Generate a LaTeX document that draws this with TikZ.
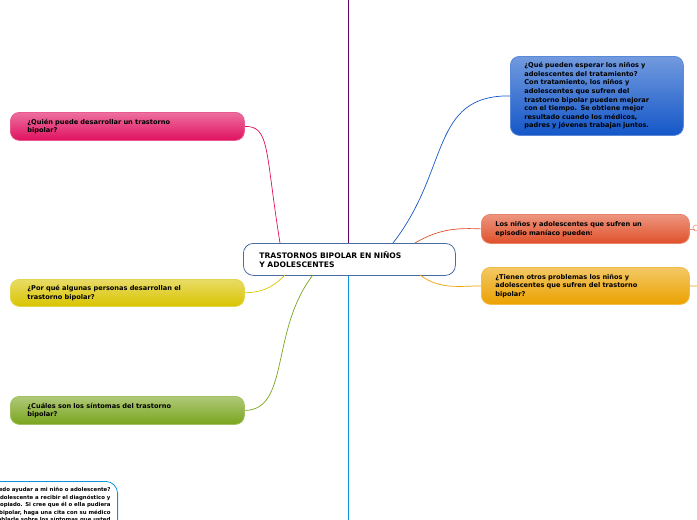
\documentclass[tikz,border=0pt]{standalone}
\usepackage{fontspec}
\setmainfont{DejaVu Sans}
\begin{document}
\begin{tikzpicture}[x=1pt,y=-1pt,
  topic/.style={rounded corners=9pt,draw=#1!70!white,line width=0.8pt,
    top color=#1!60!white,bottom color=#1,anchor=north west,inner xsep=14pt,
    align=left,font=\fontsize{6.6}{8.6}\selectfont\bfseries,text=black},
  link/.style={line width=0.7pt}]
\useasboundingbox (0,0) rectangle (697,520);
\clip (0,0) rectangle (697,520);
\definecolor{cpink}{HTML}{E0105F}
\definecolor{cyel}{HTML}{D9C400}
\definecolor{cgrn}{HTML}{7AA51E}
\definecolor{cblu}{HTML}{1457C8}
\definecolor{corg}{HTML}{E0502A}
\definecolor{cgold}{HTML}{EBA200}
% trunk lines
\coordinate (ttop) at (348,0);
\coordinate (tbot) at (348,520);
\node[draw=cblu!50!gray,line width=0.8pt,rounded corners=10pt,fill=white,
  minimum width=212pt,minimum height=32pt,text width=180pt,align=left,
  font=\fontsize{7.6}{9.5}\selectfont\bfseries,anchor=north west] (c) at (243,243)
  {TRASTORNOS BIPOLAR EN NIÑOS\\Y ADOLESCENTES};
\draw[violet!80!black,line width=0.8pt] (ttop) -- (c.north -| ttop);
\draw[cyan!80!blue,line width=0.8pt] (c.south -| tbot) -- (tbot);
\node[topic=cpink,minimum width=234pt,minimum height=28pt,inner ysep=4pt,text width=200pt] (p) at (10,112)
 {¿Quién puede desarrollar un trastorno\\bipolar?};
\node[topic=cyel,minimum width=234pt,minimum height=27pt,inner ysep=4pt,text width=200pt] (y) at (10,279)
 {¿Por qué algunas personas desarrollan el\\trastorno bipolar?};
\node[topic=cgrn,minimum width=234pt,minimum height=28pt,inner ysep=4pt,text width=200pt] (g) at (10,396)
 {¿Cuáles son los síntomas del trastorno\\bipolar?};
\node[topic=cblu,minimum width=173pt,minimum height=79pt,inner ysep=6pt,text width=145pt] (b) at (510,56)
 {¿Qué pueden esperar los niños y\\adolescentes del tratamiento?\\Con tratamiento, los niños y\\adolescentes que sufren del\\trastorno bipolar pueden mejorar\\con el tiempo. Se obtiene mejor\\resultado cuando los médicos,\\padres y jóvenes trabajan juntos.};
\node[topic=corg,minimum width=207pt,minimum height=29pt,inner ysep=4pt,text width=180pt] (o) at (481,214)
 {Los niños y adolescentes que sufren un\\episodio maníaco pueden:};
\node[topic=cgold,minimum width=205pt,minimum height=37pt,inner ysep=4pt,text width=180pt] (d) at (481,267)
 {¿Tienen otros problemas los niños y\\adolescentes que sufren del trastorno\\bipolar?};
\node[draw=cyan!80!blue,line width=0.8pt,rounded corners=12pt,fill=white,anchor=north east,
  minimum width=200pt,minimum height=80pt] (l) at (118,481) {};
\node[anchor=north east,align=right,font=\fontsize{5.4}{7.4}\selectfont\bfseries] (lt) at (114,484)
 {¿Cómo puedo ayudar a mi niño o adolescente?\\Ayude a su niño o adolescente a recibir el diagnóstico y\\tratamiento apropiado. Si cree que él o ella pudiera\\tener trastorno bipolar, haga una cita con su médico\\para hablarle sobre los síntomas que usted};
% connectors
\draw[link,cpink] (280,243) .. controls (265,150) and (270,126) .. (p.east);
\draw[link,cyel] (285,275) .. controls (270,290) and (260,292) .. (y.east);
\draw[link,cgrn] (313,275) .. controls (270,330) and (290,410) .. (g.east);
\draw[link,cblu] (393,243) .. controls (450,170) and (430,95) .. (b.west);
\draw[link,corg] (415,243) .. controls (440,228) and (460,228) .. (o.west);
\draw[link,cgold] (420,275) .. controls (440,290) and (460,286) .. (d.west);
\coordinate (oc) at (696,228);
\draw[link,corg!60!white] (o.east) -- ++(5,0);
\draw[corg!60!white,line width=0.6pt] (oc) circle (3pt);
\coordinate (de) at (697,286);
\draw[link,cgold] (d.east) -- (de);
\end{tikzpicture}
\end{document}
